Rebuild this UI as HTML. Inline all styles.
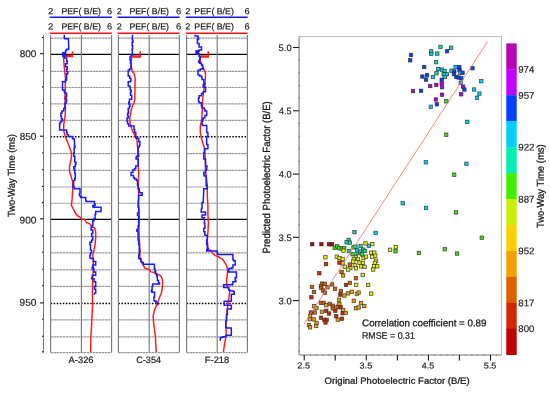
<!DOCTYPE html>
<html><head><meta charset="utf-8"><style>html,body{margin:0;padding:0;background:#fff;overflow:hidden}svg{display:block}</style></head>
<body><svg width="550" height="393" viewBox="0 0 550 393">
<rect width="550" height="393" fill="#fff"/>
<line x1="43.5" y1="35" x2="43.5" y2="352.5" stroke="#7a7a7a" stroke-width="1"/>
<line x1="42" y1="37.5" x2="43.5" y2="37.5" stroke="#1a1a1a" stroke-width="1.1"/>
<line x1="40" y1="53.7" x2="43.5" y2="53.7" stroke="#1a1a1a" stroke-width="1.1"/>
<line x1="42" y1="70.8" x2="43.5" y2="70.8" stroke="#1a1a1a" stroke-width="1.1"/>
<line x1="42" y1="86.9" x2="43.5" y2="86.9" stroke="#1a1a1a" stroke-width="1.1"/>
<line x1="42" y1="103.2" x2="43.5" y2="103.2" stroke="#1a1a1a" stroke-width="1.1"/>
<line x1="42" y1="119.7" x2="43.5" y2="119.7" stroke="#1a1a1a" stroke-width="1.1"/>
<line x1="40" y1="136.2" x2="43.5" y2="136.2" stroke="#1a1a1a" stroke-width="1.1"/>
<line x1="42" y1="153.0" x2="43.5" y2="153.0" stroke="#1a1a1a" stroke-width="1.1"/>
<line x1="42" y1="169.7" x2="43.5" y2="169.7" stroke="#1a1a1a" stroke-width="1.1"/>
<line x1="42" y1="186.4" x2="43.5" y2="186.4" stroke="#1a1a1a" stroke-width="1.1"/>
<line x1="42" y1="202.6" x2="43.5" y2="202.6" stroke="#1a1a1a" stroke-width="1.1"/>
<line x1="40" y1="218.8" x2="43.5" y2="218.8" stroke="#1a1a1a" stroke-width="1.1"/>
<line x1="42" y1="236.0" x2="43.5" y2="236.0" stroke="#1a1a1a" stroke-width="1.1"/>
<line x1="42" y1="252.2" x2="43.5" y2="252.2" stroke="#1a1a1a" stroke-width="1.1"/>
<line x1="42" y1="269.2" x2="43.5" y2="269.2" stroke="#1a1a1a" stroke-width="1.1"/>
<line x1="42" y1="285.8" x2="43.5" y2="285.8" stroke="#1a1a1a" stroke-width="1.1"/>
<line x1="40" y1="302.9" x2="43.5" y2="302.9" stroke="#1a1a1a" stroke-width="1.1"/>
<line x1="42" y1="319.2" x2="43.5" y2="319.2" stroke="#1a1a1a" stroke-width="1.1"/>
<line x1="42" y1="336.3" x2="43.5" y2="336.3" stroke="#1a1a1a" stroke-width="1.1"/>
<line x1="42" y1="351.9" x2="43.5" y2="351.9" stroke="#1a1a1a" stroke-width="1.1"/>
<text transform="matrix(1.0000,0.0005,0,0.9784,19.70,56.90)" font-family="Liberation Sans, Arial, sans-serif" text-rendering="geometricPrecision" font-size="10" fill="#1a1a1a" stroke="#1a1a1a" stroke-width="0.16">800</text>
<text transform="matrix(1.0000,0.0005,0,0.9784,19.70,139.80)" font-family="Liberation Sans, Arial, sans-serif" text-rendering="geometricPrecision" font-size="10" fill="#1a1a1a" stroke="#1a1a1a" stroke-width="0.16">850</text>
<text transform="matrix(1.0063,0.0005,0,0.9784,19.60,223.60)" font-family="Liberation Sans, Arial, sans-serif" text-rendering="geometricPrecision" font-size="10" fill="#1a1a1a" stroke="#1a1a1a" stroke-width="0.16">900</text>
<text transform="matrix(1.0063,0.0005,0,0.9784,19.60,305.80)" font-family="Liberation Sans, Arial, sans-serif" text-rendering="geometricPrecision" font-size="10" fill="#1a1a1a" stroke="#1a1a1a" stroke-width="0.16">950</text>
<text transform="matrix(0.0005,-0.9373,0.9928,0,14.80,216.99)" font-family="Liberation Sans, Arial, sans-serif" text-rendering="geometricPrecision" font-size="10" fill="#1a1a1a" stroke="#1a1a1a" stroke-width="0.3">Two-Way Time (ms)</text>
<line x1="50.6" y1="38.1" x2="111.6" y2="38.1" stroke="#999" stroke-width="1.15" stroke-dasharray="2.5 0.5"/>
<line x1="50.6" y1="54.3" x2="111.6" y2="54.3" stroke="#000" stroke-width="1.3"/>
<line x1="50.6" y1="71.4" x2="111.6" y2="71.4" stroke="#999" stroke-width="1.15" stroke-dasharray="2.5 0.5"/>
<line x1="50.6" y1="87.5" x2="111.6" y2="87.5" stroke="#999" stroke-width="1.15" stroke-dasharray="2.5 0.5"/>
<line x1="50.6" y1="103.8" x2="111.6" y2="103.8" stroke="#999" stroke-width="1.15" stroke-dasharray="2.5 0.5"/>
<line x1="50.6" y1="120.3" x2="111.6" y2="120.3" stroke="#999" stroke-width="1.15" stroke-dasharray="2.5 0.5"/>
<line x1="50.6" y1="136.8" x2="111.6" y2="136.8" stroke="#000" stroke-width="1.4" stroke-dasharray="1.5 1.55"/>
<line x1="50.6" y1="153.6" x2="111.6" y2="153.6" stroke="#999" stroke-width="1.15" stroke-dasharray="2.5 0.5"/>
<line x1="50.6" y1="170.3" x2="111.6" y2="170.3" stroke="#999" stroke-width="1.15" stroke-dasharray="2.5 0.5"/>
<line x1="50.6" y1="187.0" x2="111.6" y2="187.0" stroke="#999" stroke-width="1.15" stroke-dasharray="2.5 0.5"/>
<line x1="50.6" y1="203.2" x2="111.6" y2="203.2" stroke="#999" stroke-width="1.15" stroke-dasharray="2.5 0.5"/>
<line x1="50.6" y1="219.4" x2="111.6" y2="219.4" stroke="#000" stroke-width="1.3"/>
<line x1="50.6" y1="236.6" x2="111.6" y2="236.6" stroke="#999" stroke-width="1.15" stroke-dasharray="2.5 0.5"/>
<line x1="50.6" y1="252.8" x2="111.6" y2="252.8" stroke="#999" stroke-width="1.15" stroke-dasharray="2.5 0.5"/>
<line x1="50.6" y1="269.8" x2="111.6" y2="269.8" stroke="#999" stroke-width="1.15" stroke-dasharray="2.5 0.5"/>
<line x1="50.6" y1="286.4" x2="111.6" y2="286.4" stroke="#999" stroke-width="1.15" stroke-dasharray="2.5 0.5"/>
<line x1="50.6" y1="303.5" x2="111.6" y2="303.5" stroke="#000" stroke-width="1.4" stroke-dasharray="1.5 1.55"/>
<line x1="50.6" y1="319.8" x2="111.6" y2="319.8" stroke="#999" stroke-width="1.15" stroke-dasharray="2.5 0.5"/>
<line x1="50.6" y1="336.9" x2="111.6" y2="336.9" stroke="#999" stroke-width="1.15" stroke-dasharray="2.5 0.5"/>
<line x1="50.6" y1="352.6" x2="111.6" y2="352.6" stroke="#999" stroke-width="1.15" stroke-dasharray="2.5 0.5"/>
<line x1="50.6" y1="35" x2="50.6" y2="352.5" stroke="#7a7a7a" stroke-width="1.15"/>
<line x1="81.4" y1="35" x2="81.4" y2="352.5" stroke="#7a7a7a" stroke-width="1.15"/>
<line x1="111.6" y1="35" x2="111.6" y2="352.5" stroke="#7a7a7a" stroke-width="1.15"/>
<line x1="118.4" y1="38.1" x2="179.4" y2="38.1" stroke="#999" stroke-width="1.15" stroke-dasharray="2.5 0.5"/>
<line x1="118.4" y1="54.3" x2="179.4" y2="54.3" stroke="#000" stroke-width="1.3"/>
<line x1="118.4" y1="71.4" x2="179.4" y2="71.4" stroke="#999" stroke-width="1.15" stroke-dasharray="2.5 0.5"/>
<line x1="118.4" y1="87.5" x2="179.4" y2="87.5" stroke="#999" stroke-width="1.15" stroke-dasharray="2.5 0.5"/>
<line x1="118.4" y1="103.8" x2="179.4" y2="103.8" stroke="#999" stroke-width="1.15" stroke-dasharray="2.5 0.5"/>
<line x1="118.4" y1="120.3" x2="179.4" y2="120.3" stroke="#999" stroke-width="1.15" stroke-dasharray="2.5 0.5"/>
<line x1="118.4" y1="136.8" x2="179.4" y2="136.8" stroke="#000" stroke-width="1.4" stroke-dasharray="1.5 1.55"/>
<line x1="118.4" y1="153.6" x2="179.4" y2="153.6" stroke="#999" stroke-width="1.15" stroke-dasharray="2.5 0.5"/>
<line x1="118.4" y1="170.3" x2="179.4" y2="170.3" stroke="#999" stroke-width="1.15" stroke-dasharray="2.5 0.5"/>
<line x1="118.4" y1="187.0" x2="179.4" y2="187.0" stroke="#999" stroke-width="1.15" stroke-dasharray="2.5 0.5"/>
<line x1="118.4" y1="203.2" x2="179.4" y2="203.2" stroke="#999" stroke-width="1.15" stroke-dasharray="2.5 0.5"/>
<line x1="118.4" y1="219.4" x2="179.4" y2="219.4" stroke="#000" stroke-width="1.3"/>
<line x1="118.4" y1="236.6" x2="179.4" y2="236.6" stroke="#999" stroke-width="1.15" stroke-dasharray="2.5 0.5"/>
<line x1="118.4" y1="252.8" x2="179.4" y2="252.8" stroke="#999" stroke-width="1.15" stroke-dasharray="2.5 0.5"/>
<line x1="118.4" y1="269.8" x2="179.4" y2="269.8" stroke="#999" stroke-width="1.15" stroke-dasharray="2.5 0.5"/>
<line x1="118.4" y1="286.4" x2="179.4" y2="286.4" stroke="#999" stroke-width="1.15" stroke-dasharray="2.5 0.5"/>
<line x1="118.4" y1="303.5" x2="179.4" y2="303.5" stroke="#000" stroke-width="1.4" stroke-dasharray="1.5 1.55"/>
<line x1="118.4" y1="319.8" x2="179.4" y2="319.8" stroke="#999" stroke-width="1.15" stroke-dasharray="2.5 0.5"/>
<line x1="118.4" y1="336.9" x2="179.4" y2="336.9" stroke="#999" stroke-width="1.15" stroke-dasharray="2.5 0.5"/>
<line x1="118.4" y1="352.6" x2="179.4" y2="352.6" stroke="#999" stroke-width="1.15" stroke-dasharray="2.5 0.5"/>
<line x1="118.4" y1="35" x2="118.4" y2="352.5" stroke="#7a7a7a" stroke-width="1.15"/>
<line x1="149.2" y1="35" x2="149.2" y2="352.5" stroke="#7a7a7a" stroke-width="1.15"/>
<line x1="179.4" y1="35" x2="179.4" y2="352.5" stroke="#7a7a7a" stroke-width="1.15"/>
<line x1="186.6" y1="38.1" x2="247.4" y2="38.1" stroke="#999" stroke-width="1.15" stroke-dasharray="2.5 0.5"/>
<line x1="186.6" y1="54.3" x2="247.4" y2="54.3" stroke="#000" stroke-width="1.3"/>
<line x1="186.6" y1="71.4" x2="247.4" y2="71.4" stroke="#999" stroke-width="1.15" stroke-dasharray="2.5 0.5"/>
<line x1="186.6" y1="87.5" x2="247.4" y2="87.5" stroke="#999" stroke-width="1.15" stroke-dasharray="2.5 0.5"/>
<line x1="186.6" y1="103.8" x2="247.4" y2="103.8" stroke="#999" stroke-width="1.15" stroke-dasharray="2.5 0.5"/>
<line x1="186.6" y1="120.3" x2="247.4" y2="120.3" stroke="#999" stroke-width="1.15" stroke-dasharray="2.5 0.5"/>
<line x1="186.6" y1="136.8" x2="247.4" y2="136.8" stroke="#000" stroke-width="1.4" stroke-dasharray="1.5 1.55"/>
<line x1="186.6" y1="153.6" x2="247.4" y2="153.6" stroke="#999" stroke-width="1.15" stroke-dasharray="2.5 0.5"/>
<line x1="186.6" y1="170.3" x2="247.4" y2="170.3" stroke="#999" stroke-width="1.15" stroke-dasharray="2.5 0.5"/>
<line x1="186.6" y1="187.0" x2="247.4" y2="187.0" stroke="#999" stroke-width="1.15" stroke-dasharray="2.5 0.5"/>
<line x1="186.6" y1="203.2" x2="247.4" y2="203.2" stroke="#999" stroke-width="1.15" stroke-dasharray="2.5 0.5"/>
<line x1="186.6" y1="219.4" x2="247.4" y2="219.4" stroke="#000" stroke-width="1.3"/>
<line x1="186.6" y1="236.6" x2="247.4" y2="236.6" stroke="#999" stroke-width="1.15" stroke-dasharray="2.5 0.5"/>
<line x1="186.6" y1="252.8" x2="247.4" y2="252.8" stroke="#999" stroke-width="1.15" stroke-dasharray="2.5 0.5"/>
<line x1="186.6" y1="269.8" x2="247.4" y2="269.8" stroke="#999" stroke-width="1.15" stroke-dasharray="2.5 0.5"/>
<line x1="186.6" y1="286.4" x2="247.4" y2="286.4" stroke="#999" stroke-width="1.15" stroke-dasharray="2.5 0.5"/>
<line x1="186.6" y1="303.5" x2="247.4" y2="303.5" stroke="#000" stroke-width="1.4" stroke-dasharray="1.5 1.55"/>
<line x1="186.6" y1="319.8" x2="247.4" y2="319.8" stroke="#999" stroke-width="1.15" stroke-dasharray="2.5 0.5"/>
<line x1="186.6" y1="336.9" x2="247.4" y2="336.9" stroke="#999" stroke-width="1.15" stroke-dasharray="2.5 0.5"/>
<line x1="186.6" y1="352.6" x2="247.4" y2="352.6" stroke="#999" stroke-width="1.15" stroke-dasharray="2.5 0.5"/>
<line x1="186.6" y1="35" x2="186.6" y2="352.5" stroke="#7a7a7a" stroke-width="1.15"/>
<line x1="217.2" y1="35" x2="217.2" y2="352.5" stroke="#7a7a7a" stroke-width="1.15"/>
<line x1="247.4" y1="35" x2="247.4" y2="352.5" stroke="#7a7a7a" stroke-width="1.15"/>
<line x1="49.800000000000004" y1="17.3" x2="111.89999999999999" y2="17.3" stroke="#1414f0" stroke-width="1.5"/>
<line x1="49.800000000000004" y1="33.3" x2="111.89999999999999" y2="33.3" stroke="#f01414" stroke-width="1.5"/>
<text transform="matrix(0.9565,0.0005,0,0.8849,48.02,14.25)" font-family="Liberation Sans, Arial, sans-serif" text-rendering="geometricPrecision" font-size="10" fill="#1a1a1a" stroke="#1a1a1a" stroke-width="0.16">2</text>
<text transform="matrix(0.8784,0.0005,0,0.8849,61.40,14.25)" font-family="Liberation Sans, Arial, sans-serif" text-rendering="geometricPrecision" font-size="10" fill="#1a1a1a" stroke="#1a1a1a" stroke-width="0.22">PEF( B/E)</text>
<text transform="matrix(0.9130,0.0005,0,0.8849,107.04,14.25)" font-family="Liberation Sans, Arial, sans-serif" text-rendering="geometricPrecision" font-size="10" fill="#1a1a1a" stroke="#1a1a1a" stroke-width="0.16">6</text>
<text transform="matrix(0.9565,0.0005,0,0.8849,48.02,29.55)" font-family="Liberation Sans, Arial, sans-serif" text-rendering="geometricPrecision" font-size="10" fill="#1a1a1a" stroke="#1a1a1a" stroke-width="0.16">2</text>
<text transform="matrix(0.8784,0.0005,0,0.8849,61.40,29.55)" font-family="Liberation Sans, Arial, sans-serif" text-rendering="geometricPrecision" font-size="10" fill="#1a1a1a" stroke="#1a1a1a" stroke-width="0.22">PEF( B/E)</text>
<text transform="matrix(0.9130,0.0005,0,0.8849,107.04,29.55)" font-family="Liberation Sans, Arial, sans-serif" text-rendering="geometricPrecision" font-size="10" fill="#1a1a1a" stroke="#1a1a1a" stroke-width="0.16">6</text>
<line x1="117.60000000000001" y1="17.3" x2="179.70000000000002" y2="17.3" stroke="#1414f0" stroke-width="1.5"/>
<line x1="117.60000000000001" y1="33.3" x2="179.70000000000002" y2="33.3" stroke="#f01414" stroke-width="1.5"/>
<text transform="matrix(0.9130,0.0005,0,0.8849,116.64,14.25)" font-family="Liberation Sans, Arial, sans-serif" text-rendering="geometricPrecision" font-size="10" fill="#1a1a1a" stroke="#1a1a1a" stroke-width="0.16">2</text>
<text transform="matrix(0.8784,0.0005,0,0.8849,129.40,14.25)" font-family="Liberation Sans, Arial, sans-serif" text-rendering="geometricPrecision" font-size="10" fill="#1a1a1a" stroke="#1a1a1a" stroke-width="0.22">PEF( B/E)</text>
<text transform="matrix(0.9348,0.0005,0,0.8849,175.93,14.25)" font-family="Liberation Sans, Arial, sans-serif" text-rendering="geometricPrecision" font-size="10" fill="#1a1a1a" stroke="#1a1a1a" stroke-width="0.16">6</text>
<text transform="matrix(0.9130,0.0005,0,0.8849,116.64,29.55)" font-family="Liberation Sans, Arial, sans-serif" text-rendering="geometricPrecision" font-size="10" fill="#1a1a1a" stroke="#1a1a1a" stroke-width="0.16">2</text>
<text transform="matrix(0.8784,0.0005,0,0.8849,129.40,29.55)" font-family="Liberation Sans, Arial, sans-serif" text-rendering="geometricPrecision" font-size="10" fill="#1a1a1a" stroke="#1a1a1a" stroke-width="0.22">PEF( B/E)</text>
<text transform="matrix(0.9348,0.0005,0,0.8849,175.93,29.55)" font-family="Liberation Sans, Arial, sans-serif" text-rendering="geometricPrecision" font-size="10" fill="#1a1a1a" stroke="#1a1a1a" stroke-width="0.16">6</text>
<line x1="185.79999999999998" y1="17.3" x2="247.70000000000002" y2="17.3" stroke="#1414f0" stroke-width="1.5"/>
<line x1="185.79999999999998" y1="33.3" x2="247.70000000000002" y2="33.3" stroke="#f01414" stroke-width="1.5"/>
<text transform="matrix(0.9130,0.0005,0,0.8849,185.34,14.25)" font-family="Liberation Sans, Arial, sans-serif" text-rendering="geometricPrecision" font-size="10" fill="#1a1a1a" stroke="#1a1a1a" stroke-width="0.16">2</text>
<text transform="matrix(0.8784,0.0005,0,0.8849,194.30,14.25)" font-family="Liberation Sans, Arial, sans-serif" text-rendering="geometricPrecision" font-size="10" fill="#1a1a1a" stroke="#1a1a1a" stroke-width="0.22">PEF( B/E)</text>
<text transform="matrix(0.9348,0.0005,0,0.8849,244.43,14.25)" font-family="Liberation Sans, Arial, sans-serif" text-rendering="geometricPrecision" font-size="10" fill="#1a1a1a" stroke="#1a1a1a" stroke-width="0.16">6</text>
<text transform="matrix(0.9130,0.0005,0,0.8849,185.34,29.55)" font-family="Liberation Sans, Arial, sans-serif" text-rendering="geometricPrecision" font-size="10" fill="#1a1a1a" stroke="#1a1a1a" stroke-width="0.16">2</text>
<text transform="matrix(0.8784,0.0005,0,0.8849,194.30,29.55)" font-family="Liberation Sans, Arial, sans-serif" text-rendering="geometricPrecision" font-size="10" fill="#1a1a1a" stroke="#1a1a1a" stroke-width="0.22">PEF( B/E)</text>
<text transform="matrix(0.9348,0.0005,0,0.8849,244.43,29.55)" font-family="Liberation Sans, Arial, sans-serif" text-rendering="geometricPrecision" font-size="10" fill="#1a1a1a" stroke="#1a1a1a" stroke-width="0.16">6</text>
<text transform="matrix(0.9351,0.0005,0,0.9209,68.60,362.90)" font-family="Liberation Sans, Arial, sans-serif" text-rendering="geometricPrecision" font-size="10" fill="#1a1a1a" stroke="#1a1a1a" stroke-width="0.22">A-326</text>
<text transform="matrix(0.9167,0.0005,0,0.9209,136.14,362.90)" font-family="Liberation Sans, Arial, sans-serif" text-rendering="geometricPrecision" font-size="10" fill="#1a1a1a" stroke="#1a1a1a" stroke-width="0.22">C-354</text>
<text transform="matrix(0.9317,0.0005,0,0.9209,204.85,362.90)" font-family="Liberation Sans, Arial, sans-serif" text-rendering="geometricPrecision" font-size="10" fill="#1a1a1a" stroke="#1a1a1a" stroke-width="0.22">F-218</text>
<polyline points="63.5,56.3 64.3,67.9 65.5,77.8 65.2,87.6 64.9,99.3 65.5,108.6 65.2,115.6 64.3,120.8 63.7,124.8 63.7,130.6 64.9,135.3 66.6,139.9 68.4,144.0 69.5,146.9 70.7,150.4 71.6,153.9 71.3,158.6 70.1,164.0 69.5,166.7 69.5,171.3 71.3,177.1 72.7,181.8 72.8,187.6 72.4,194.6 71.9,201.6 71.3,205.0 73.0,208.5 74.8,212.0 77.1,215.5 80.0,217.2 81.7,219.0 84.7,219.5 86.4,222.5 89.3,223.6 91.6,225.9 92.8,227.1 94.5,227.7 95.7,231.8 95.7,237.6 95.1,244.6 94.0,250.0 92.8,255.0 93.4,265.5 92.8,277.1 92.6,286.4 92.4,293.0 92.6,303.6 91.9,319.4 90.9,336.7 90.6,352.0" fill="none" stroke="#ff1a1a" stroke-width="1.45" stroke-linejoin="round"/>
<path d="M71.7,51.3 H73.2 V57.3 H63.1 V54.8 H71.7 Z" fill="#ff1a1a"/>
<polyline points="63.1,56.1 63.5,56.3" fill="none" stroke="#ff1a1a" stroke-width="1.45"/>
<polyline points="131.7,57.4 131.1,62.1 131.5,67.9 132.3,71.4 134.0,73.1 135.2,78.3 135.0,87.6 134.9,99.3 134.0,102.8 132.3,106.3 131.4,109.7 130.5,114.4 129.7,119.0 130.2,123.7 132.3,130.6 134.6,135.3 136.9,139.9 137.5,146.9 138.1,153.9 138.3,164.0 138.7,173.6 138.3,185.3 138.7,196.9 138.7,205.0 139.3,216.6 139.0,228.3 139.3,239.9 139.9,250.0 139.9,257.3 141.6,262.0 143.3,265.5 145.1,268.4 149.2,269.5 150.9,271.9 153.8,272.4 156.1,274.2 159.1,274.8 160.8,275.9 162.0,278.3 162.5,281.7 162.5,286.4 162.0,289.9 161.4,293.0 160.2,295.7 157.3,303.6 154.6,309.9 153.1,316.2 153.9,325.7 155.4,336.7 156.2,352.0" fill="none" stroke="#ff1a1a" stroke-width="1.45" stroke-linejoin="round"/>
<path d="M139.5,51.3 H141.0 V57.8 H132.3 V55.3 H139.5 Z" fill="#ff1a1a"/>
<polyline points="132.3,56.6 131.7,57.4" fill="none" stroke="#ff1a1a" stroke-width="1.45"/>
<polyline points="200.3,56.9 200.3,60.9 201.5,64.4 203.2,67.9 204.9,71.4 205.5,74.9 205.5,78.0 204.9,83.0 203.8,90.0 202.6,99.3 202.4,108.6 202.0,114.4 201.5,121.0 200.3,126.0 200.3,131.8 201.5,138.8 203.2,144.6 204.9,149.3 204.9,153.9 205.3,158.6 205.5,164.0 205.5,171.3 206.7,179.5 207.3,185.3 207.3,196.9 207.9,205.0 207.9,214.3 208.4,222.5 207.9,232.9 207.3,239.9 207.9,246.9 209.0,250.0 210.8,250.3 213.1,253.8 215.4,255.6 218.3,256.7 220.1,257.9 222.4,259.1 224.1,261.4 225.9,264.3 227.1,267.2 227.6,271.3 227.1,275.9 226.5,280.6 227.1,285.2 228.2,288.7 229.7,291.0 229.0,297.3 227.9,305.2 226.6,314.7 225.8,325.7 226.3,335.2 224.7,343.1 223.4,352.0" fill="none" stroke="#ff1a1a" stroke-width="1.45" stroke-linejoin="round"/>
<path d="M207.5,51.3 H209.0 V57.8 H200.9 V55.3 H207.5 Z" fill="#ff1a1a"/>
<polyline points="200.9,56.6 200.3,56.9" fill="none" stroke="#ff1a1a" stroke-width="1.45"/>
<polyline points="64.3,34.7 64.3,38.2 64.9,38.2 64.9,38.8 68.4,38.8 68.7,47.0 68.7,49.3 66.6,49.3 66.6,50.5 65.5,50.5 65.5,52.8 63.1,52.8 63.1,54.5 63.1,56.3 64.3,56.3 64.3,58.0 66.6,58.0 66.6,61.0 67.2,61.0 67.2,63.8 65.5,63.8 65.5,66.7 67.2,66.7 67.2,69.0 66.6,69.0 66.6,71.4 67.8,71.4 67.8,73.7 66.6,73.7 66.6,77.8 66.0,77.8 66.0,78.9 66.6,78.9 66.6,80.1 65.5,80.1 65.5,81.8 62.5,81.8 62.5,88.8 62.5,90.0 64.3,90.0 64.3,92.3 65.5,92.3 65.5,93.5 66.6,93.5 66.6,96.4 66.0,96.4 66.0,97.5 65.5,97.5 65.5,99.3 66.6,99.3 66.6,101.6 66.0,101.6 66.0,103.3 64.9,103.3 64.9,105.1 64.9,108.6 63.7,108.6 63.7,110.9 62.0,110.9 62.0,113.2 60.8,113.2 60.8,116.1 61.4,116.1 61.4,119.1 62.5,119.1 62.5,120.7 61.4,120.7 61.4,121.9 60.2,121.9 60.2,123.7 59.6,123.7 59.6,129.5 59.6,130.1 60.8,130.1 66.6,130.1 66.6,132.4 67.2,132.4 67.2,134.7 68.4,134.7 68.4,136.5 72.4,136.5 72.4,138.2 73.0,138.2 73.0,138.8 74.2,138.8 74.5,142.3 74.5,145.8 75.0,145.8 75.0,147.5 74.2,147.5 74.2,149.3 74.2,152.7 73.8,152.7 73.8,156.2 74.8,156.2 74.8,162.0 75.9,162.0 75.9,164.3 75.3,164.3 75.3,166.7 73.8,166.7 73.8,169.0 74.8,169.0 74.8,173.6 75.3,173.6 75.3,178.3 74.8,178.3 74.8,180.6 73.6,180.6 73.6,185.3 73.0,185.3 73.0,187.0 74.2,187.0 74.2,188.8 75.3,188.8 80.0,188.8 80.0,192.3 80.0,193.4 79.4,193.4 79.4,195.7 80.6,195.7 80.6,197.5 81.2,197.5 85.8,197.5 85.8,201.0 86.4,201.0 86.4,201.6 94.5,201.6 94.5,203.9 95.1,203.9 95.1,205.6 92.8,205.6 92.8,206.7 93.4,206.7 93.4,207.3 101.0,207.3 101.0,211.4 95.7,211.4 95.7,214.3 95.1,214.3 95.1,218.4 94.0,218.4 94.0,220.7 92.8,220.7 92.8,225.4 92.2,225.4 92.2,227.1 91.1,227.1 91.1,229.4 91.1,230.0 92.8,230.0 92.8,232.9 92.8,233.5 91.6,233.5 91.6,235.8 91.6,236.4 92.8,236.4 92.8,238.7 92.8,239.9 91.6,239.9 91.6,242.2 89.9,242.2 89.9,244.6 90.5,244.6 90.5,250.0 91.1,250.0 91.6,250.3 91.6,252.7 90.5,252.7 90.5,255.0 89.9,255.0 89.9,257.9 91.1,257.9 91.1,258.5 93.4,258.5 93.4,260.8 93.4,261.4 95.7,261.4 95.7,264.3 95.7,264.9 92.8,264.9 92.8,267.2 92.2,267.2 92.2,268.9 94.0,268.9 94.0,271.3 94.0,271.9 95.7,271.9 95.7,274.8 95.7,275.3 92.2,275.3 92.2,278.3 91.6,278.3 91.6,278.8 94.0,278.8 94.0,281.7 95.7,281.7 95.7,286.4 94.5,286.4 94.5,289.3 95.7,289.3 95.7,293.0 95.1,293.0 94.5,293.4 94.2,294.9" fill="none" stroke="#1a1aff" stroke-width="1.5" stroke-linejoin="miter" stroke-miterlimit="2"/>
<polyline points="132.6,34.7 132.3,37.7 132.3,40.0 132.9,40.0 132.9,42.3 132.1,42.3 132.1,45.8 132.6,45.8 132.6,49.3 132.1,49.3 132.3,52.8 132.3,55.1 131.1,55.1 131.1,56.9 130.0,56.9 130.0,59.8 130.5,59.8 130.5,63.3 130.9,63.3 131.1,67.9 131.1,69.1 129.4,69.1 129.4,70.2 128.2,70.2 128.2,74.3 128.2,76.1 129.7,76.1 129.7,78.3 130.9,78.3 130.9,80.7 130.5,80.7 130.5,81.8 128.2,81.8 128.2,84.7 128.2,85.9 130.0,85.9 130.2,88.8 130.2,90.0 131.1,90.0 131.1,92.3 130.5,92.3 130.5,95.2 131.7,95.2 131.7,97.5 131.7,99.3 129.4,99.3 129.4,102.2 128.8,102.2 128.8,103.9 130.0,103.9 130.0,106.3 129.4,106.3 129.4,108.6 128.2,108.6 128.2,110.9 128.6,110.9 128.6,113.2 127.6,113.2 127.6,115.6 128.2,115.6 128.2,117.9 127.1,117.9 127.1,119.0 127.1,121.3 127.6,121.3 127.6,123.7 128.8,123.7 128.8,126.0 129.4,126.0 134.0,126.0 134.0,129.5 134.6,129.5 134.6,132.4 135.8,132.4 135.8,135.3 135.8,137.6 136.7,137.6 136.7,138.2 138.7,138.2 138.7,141.7 139.9,141.7 139.9,145.2 139.3,145.2 139.3,146.9 138.1,146.9 138.1,152.7 138.1,155.1 138.7,155.1 138.7,156.2 136.4,156.2 136.4,158.0 136.0,158.0 136.0,159.1 138.1,159.1 138.3,164.0 138.1,165.5 138.1,166.1 135.8,166.1 135.8,168.4 134.6,168.4 134.6,170.1 132.9,170.1 132.9,172.5 131.1,172.5 131.1,174.8 131.1,175.4 133.5,175.4 133.5,177.7 134.6,177.7 134.6,178.9 136.4,178.9 136.4,180.6 137.5,180.6 137.5,185.3 138.1,185.3 138.1,188.8 139.3,188.8 139.3,192.3 139.9,192.3 139.9,192.8 142.2,192.8 142.2,195.2 138.7,195.2 138.3,200.4 138.1,203.9 138.1,207.0 138.7,207.0 138.7,210.8 138.7,213.1 137.5,213.1 137.5,215.5 138.7,215.5 138.7,221.3 138.7,225.9 138.1,225.9 138.1,229.4 136.9,229.4 136.9,231.2 137.9,231.2 138.1,235.3 138.1,239.9 138.7,239.9 138.7,244.6 139.3,244.6 139.3,250.0 139.9,250.0 139.9,251.5 139.3,251.5 139.3,255.0 138.7,255.0 138.7,257.9 139.3,257.9 139.3,259.1 141.0,259.1 141.0,261.4 141.6,261.4 141.6,262.5 143.3,262.5 143.3,264.3 143.9,264.3 154.4,264.3 154.4,268.9 155.0,268.9 155.0,271.3 155.6,271.3 155.6,273.6 156.7,273.6 156.7,275.9 157.3,275.9 157.3,279.4 157.3,280.6 158.5,280.6 158.5,282.9 159.6,282.9 159.6,284.1 160.2,284.1 152.7,284.1 152.7,286.4 152.1,286.4 152.1,289.9 151.5,289.9 151.5,291.8 152.3,291.8 152.3,292.3 154.6,292.3 154.6,294.9 154.6,297.3 153.9,297.3 153.9,300.5 154.6,300.5 154.6,301.3 156.2,301.3 156.2,302.8 157.8,302.8 157.8,304.4 157.0,304.4" fill="none" stroke="#1a1aff" stroke-width="1.5" stroke-linejoin="miter" stroke-miterlimit="2"/>
<polyline points="195.1,34.7 195.1,35.9 198.0,35.9 198.0,38.2 198.5,38.2 198.5,39.4 197.4,39.4 197.4,41.7 197.4,43.5 199.1,43.5 199.1,45.8 199.1,47.0 201.5,47.0 201.5,49.3 201.5,49.9 199.1,49.9 199.1,51.0 196.2,51.0 196.2,52.8 196.2,53.9 199.1,53.9 199.1,56.3 200.3,56.3 200.3,58.6 199.7,58.6 199.7,60.9 198.5,60.9 198.5,62.1 199.7,62.1 199.7,63.3 201.5,63.3 201.5,65.0 202.6,65.0 202.6,67.9 203.2,67.9 203.2,69.1 200.3,69.1 200.3,70.2 198.0,70.2 198.0,72.6 198.0,74.9 199.7,74.9 199.7,76.1 201.5,76.1 201.5,77.2 202.0,77.2 202.0,79.5 203.8,79.5 203.8,81.8 203.8,83.6 204.9,83.6 204.9,84.7 203.2,84.7 203.2,87.1 205.5,87.1 205.5,89.4 205.5,91.7 203.2,91.7 203.2,93.5 201.5,93.5 201.5,95.8 199.1,95.8 199.1,98.1 198.5,98.1 198.5,101.6 199.1,101.6 199.1,102.8 201.5,102.8 201.5,106.3 202.0,106.3 202.0,108.0 204.4,108.0 204.4,109.7 204.9,109.7 204.9,110.9 206.7,110.9 206.7,113.2 206.7,115.6 204.9,115.6 204.9,117.9 203.2,117.9 203.2,119.0 202.6,119.0 202.6,121.3 202.0,121.3 202.0,124.2 202.4,124.2 202.4,125.4 203.2,125.4 206.7,125.4 206.7,130.6 206.7,132.4 207.9,132.4 207.9,134.7 207.9,136.5 206.7,136.5 206.7,143.4 206.7,144.6 207.9,144.6 207.9,148.1 207.9,148.7 204.4,148.7 204.4,152.7 203.8,152.7 203.8,158.6 203.8,159.1 205.5,159.1 205.5,164.9 205.5,166.1 207.0,166.1 206.7,168.4 206.7,170.1 205.5,170.1 205.5,172.5 203.8,172.5 203.8,174.8 204.4,174.8 204.4,176.0 206.1,176.0 206.1,180.6 206.1,185.3 207.0,185.3 207.3,188.2 207.3,188.8 203.8,188.8 203.5,196.9 203.2,201.0 203.2,202.7 202.0,202.7 202.0,205.0 202.0,208.5 201.5,208.5 201.2,210.8 201.2,212.0 205.5,212.0 205.5,214.3 205.5,214.9 202.0,214.9 202.0,217.2 202.0,217.8 204.4,217.8 204.4,220.1 204.4,223.6 204.9,223.6 204.9,228.3 203.8,228.3 203.8,231.8 204.9,231.8 204.9,235.3 207.3,235.3 207.3,239.9 206.7,239.9 206.7,244.6 207.3,244.6 207.3,248.6 207.9,248.6 207.9,249.7 206.7,249.7 206.7,250.9 217.2,250.9 217.2,253.8 217.7,253.8 217.7,254.4 232.9,254.4 232.9,259.6 233.5,259.6 233.5,260.8 235.2,260.8 235.2,264.3 235.2,264.9 232.9,264.9 232.9,267.8 231.7,267.8 231.7,268.4 228.8,268.4 228.8,271.3 228.2,271.3 228.2,271.9 236.4,271.9 236.4,275.9 236.4,277.7 235.2,277.7 235.2,280.6 235.8,280.6 235.8,281.7 232.9,281.7 232.9,284.1 232.3,284.1 232.3,284.7 223.6,284.7 223.6,287.0 223.6,287.6 228.8,287.6 228.8,289.9 230.0,289.9 230.0,291.1 233.5,291.1 233.5,291.8 234.2,291.8 234.2,294.2 231.3,294.2 231.3,300.5 231.3,301.3 224.2,301.3 224.2,304.4 224.2,305.2 231.3,305.2 231.3,308.4 231.3,309.1 227.4,309.1 227.4,314.7 226.6,314.7 226.6,321.0 225.8,321.0 225.8,327.3 226.6,327.3 226.6,328.1 231.3,328.1 231.3,334.4 231.3,335.2 225.8,335.2 225.8,336.7 222.6,336.7 222.6,337.5 220.3,337.5 220.3,340.7" fill="none" stroke="#1a1aff" stroke-width="1.5" stroke-linejoin="miter" stroke-miterlimit="2"/>
<rect x="62.2" y="52" width="4" height="5" rx="1.2" fill="#1a1aff"/>
<rect x="195.6" y="50.3" width="3.6" height="4.2" rx="1.2" fill="#1a1aff"/>
<line x1="299.1" y1="36.5" x2="501.5" y2="36.5" stroke="#bdbdbd" stroke-width="1"/>
<line x1="501.5" y1="36.5" x2="501.5" y2="355.0" stroke="#bdbdbd" stroke-width="1"/>
<line x1="299.1" y1="36.5" x2="299.1" y2="355.0" stroke="#a3a3a3" stroke-width="1.6"/>
<line x1="299.1" y1="355.0" x2="501.5" y2="355.0" stroke="#a3a3a3" stroke-width="1.3"/>
<line x1="298.5" y1="351.2" x2="300.0" y2="351.2" stroke="#707070" stroke-width="0.8"/>
<line x1="298.5" y1="338.6" x2="300.0" y2="338.6" stroke="#707070" stroke-width="0.8"/>
<line x1="298.5" y1="325.9" x2="300.0" y2="325.9" stroke="#707070" stroke-width="0.8"/>
<line x1="298.5" y1="313.3" x2="300.0" y2="313.3" stroke="#707070" stroke-width="0.8"/>
<line x1="298.5" y1="287.9" x2="300.0" y2="287.9" stroke="#707070" stroke-width="0.8"/>
<line x1="298.5" y1="275.3" x2="300.0" y2="275.3" stroke="#707070" stroke-width="0.8"/>
<line x1="298.5" y1="262.6" x2="300.0" y2="262.6" stroke="#707070" stroke-width="0.8"/>
<line x1="298.5" y1="250.0" x2="300.0" y2="250.0" stroke="#707070" stroke-width="0.8"/>
<line x1="298.5" y1="224.7" x2="300.0" y2="224.7" stroke="#707070" stroke-width="0.8"/>
<line x1="298.5" y1="212.0" x2="300.0" y2="212.0" stroke="#707070" stroke-width="0.8"/>
<line x1="298.5" y1="199.4" x2="300.0" y2="199.4" stroke="#707070" stroke-width="0.8"/>
<line x1="298.5" y1="186.7" x2="300.0" y2="186.7" stroke="#707070" stroke-width="0.8"/>
<line x1="298.5" y1="161.4" x2="300.0" y2="161.4" stroke="#707070" stroke-width="0.8"/>
<line x1="298.5" y1="148.7" x2="300.0" y2="148.7" stroke="#707070" stroke-width="0.8"/>
<line x1="298.5" y1="136.1" x2="300.0" y2="136.1" stroke="#707070" stroke-width="0.8"/>
<line x1="298.5" y1="123.4" x2="300.0" y2="123.4" stroke="#707070" stroke-width="0.8"/>
<line x1="298.5" y1="98.1" x2="300.0" y2="98.1" stroke="#707070" stroke-width="0.8"/>
<line x1="298.5" y1="85.5" x2="300.0" y2="85.5" stroke="#707070" stroke-width="0.8"/>
<line x1="298.5" y1="72.8" x2="300.0" y2="72.8" stroke="#707070" stroke-width="0.8"/>
<line x1="298.5" y1="60.2" x2="300.0" y2="60.2" stroke="#707070" stroke-width="0.8"/>
<line x1="310.4" y1="354.2" x2="310.4" y2="355.6" stroke="#707070" stroke-width="0.8"/>
<line x1="316.6" y1="354.2" x2="316.6" y2="355.6" stroke="#707070" stroke-width="0.8"/>
<line x1="322.8" y1="354.2" x2="322.8" y2="355.6" stroke="#707070" stroke-width="0.8"/>
<line x1="329.0" y1="354.2" x2="329.0" y2="355.6" stroke="#707070" stroke-width="0.8"/>
<line x1="341.5" y1="354.2" x2="341.5" y2="355.6" stroke="#707070" stroke-width="0.8"/>
<line x1="347.7" y1="354.2" x2="347.7" y2="355.6" stroke="#707070" stroke-width="0.8"/>
<line x1="353.9" y1="354.2" x2="353.9" y2="355.6" stroke="#707070" stroke-width="0.8"/>
<line x1="360.1" y1="354.2" x2="360.1" y2="355.6" stroke="#707070" stroke-width="0.8"/>
<line x1="372.5" y1="354.2" x2="372.5" y2="355.6" stroke="#707070" stroke-width="0.8"/>
<line x1="378.7" y1="354.2" x2="378.7" y2="355.6" stroke="#707070" stroke-width="0.8"/>
<line x1="384.9" y1="354.2" x2="384.9" y2="355.6" stroke="#707070" stroke-width="0.8"/>
<line x1="391.1" y1="354.2" x2="391.1" y2="355.6" stroke="#707070" stroke-width="0.8"/>
<line x1="403.6" y1="354.2" x2="403.6" y2="355.6" stroke="#707070" stroke-width="0.8"/>
<line x1="409.8" y1="354.2" x2="409.8" y2="355.6" stroke="#707070" stroke-width="0.8"/>
<line x1="416.0" y1="354.2" x2="416.0" y2="355.6" stroke="#707070" stroke-width="0.8"/>
<line x1="422.2" y1="354.2" x2="422.2" y2="355.6" stroke="#707070" stroke-width="0.8"/>
<line x1="434.6" y1="354.2" x2="434.6" y2="355.6" stroke="#707070" stroke-width="0.8"/>
<line x1="440.8" y1="354.2" x2="440.8" y2="355.6" stroke="#707070" stroke-width="0.8"/>
<line x1="447.0" y1="354.2" x2="447.0" y2="355.6" stroke="#707070" stroke-width="0.8"/>
<line x1="453.2" y1="354.2" x2="453.2" y2="355.6" stroke="#707070" stroke-width="0.8"/>
<line x1="465.7" y1="354.2" x2="465.7" y2="355.6" stroke="#707070" stroke-width="0.8"/>
<line x1="471.9" y1="354.2" x2="471.9" y2="355.6" stroke="#707070" stroke-width="0.8"/>
<line x1="478.1" y1="354.2" x2="478.1" y2="355.6" stroke="#707070" stroke-width="0.8"/>
<line x1="484.3" y1="354.2" x2="484.3" y2="355.6" stroke="#707070" stroke-width="0.8"/>
<line x1="496.7" y1="354.2" x2="496.7" y2="355.6" stroke="#707070" stroke-width="0.8"/>
<line x1="293" y1="300.6" x2="299.1" y2="300.6" stroke="#1a1a1a" stroke-width="1.1"/>
<text transform="matrix(0.9466,0.0005,0,0.9353,278.52,304.15)" font-family="Liberation Sans, Arial, sans-serif" text-rendering="geometricPrecision" font-size="10" fill="#1a1a1a" stroke="#1a1a1a" stroke-width="0.16">3.0</text>
<line x1="293" y1="237.3" x2="299.1" y2="237.3" stroke="#1a1a1a" stroke-width="1.1"/>
<text transform="matrix(0.9466,0.0005,0,0.9353,278.52,240.88)" font-family="Liberation Sans, Arial, sans-serif" text-rendering="geometricPrecision" font-size="10" fill="#1a1a1a" stroke="#1a1a1a" stroke-width="0.16">3.5</text>
<line x1="293" y1="174.1" x2="299.1" y2="174.1" stroke="#1a1a1a" stroke-width="1.1"/>
<text transform="matrix(0.9323,0.0005,0,0.9353,278.71,177.60)" font-family="Liberation Sans, Arial, sans-serif" text-rendering="geometricPrecision" font-size="10" fill="#1a1a1a" stroke="#1a1a1a" stroke-width="0.16">4.0</text>
<line x1="293" y1="110.8" x2="299.1" y2="110.8" stroke="#1a1a1a" stroke-width="1.1"/>
<text transform="matrix(0.9323,0.0005,0,0.9353,278.71,114.33)" font-family="Liberation Sans, Arial, sans-serif" text-rendering="geometricPrecision" font-size="10" fill="#1a1a1a" stroke="#1a1a1a" stroke-width="0.16">4.5</text>
<line x1="293" y1="47.5" x2="299.1" y2="47.5" stroke="#1a1a1a" stroke-width="1.1"/>
<text transform="matrix(0.9466,0.0005,0,0.9353,278.52,51.05)" font-family="Liberation Sans, Arial, sans-serif" text-rendering="geometricPrecision" font-size="10" fill="#1a1a1a" stroke="#1a1a1a" stroke-width="0.16">5.0</text>
<line x1="304.2" y1="355.0" x2="304.2" y2="360.6" stroke="#1a1a1a" stroke-width="1.1"/>
<text transform="matrix(0.9231,0.0005,0,0.8777,297.34,368.60)" font-family="Liberation Sans, Arial, sans-serif" text-rendering="geometricPrecision" font-size="10" fill="#1a1a1a" stroke="#1a1a1a" stroke-width="0.16">2.5</text>
<line x1="335.2" y1="355.0" x2="335.2" y2="360.6" stroke="#1a1a1a" stroke-width="1.1"/>
<line x1="366.3" y1="355.0" x2="366.3" y2="360.6" stroke="#1a1a1a" stroke-width="1.1"/>
<text transform="matrix(0.9160,0.0005,0,0.8777,359.53,368.60)" font-family="Liberation Sans, Arial, sans-serif" text-rendering="geometricPrecision" font-size="10" fill="#1a1a1a" stroke="#1a1a1a" stroke-width="0.16">3.5</text>
<line x1="397.4" y1="355.0" x2="397.4" y2="360.6" stroke="#1a1a1a" stroke-width="1.1"/>
<line x1="428.4" y1="355.0" x2="428.4" y2="360.6" stroke="#1a1a1a" stroke-width="1.1"/>
<text transform="matrix(0.9023,0.0005,0,0.8777,421.82,368.60)" font-family="Liberation Sans, Arial, sans-serif" text-rendering="geometricPrecision" font-size="10" fill="#1a1a1a" stroke="#1a1a1a" stroke-width="0.16">4.5</text>
<line x1="459.4" y1="355.0" x2="459.4" y2="360.6" stroke="#1a1a1a" stroke-width="1.1"/>
<line x1="490.5" y1="355.0" x2="490.5" y2="360.6" stroke="#1a1a1a" stroke-width="1.1"/>
<text transform="matrix(0.9160,0.0005,0,0.8777,483.73,368.60)" font-family="Liberation Sans, Arial, sans-serif" text-rendering="geometricPrecision" font-size="10" fill="#1a1a1a" stroke="#1a1a1a" stroke-width="0.16">5.5</text>
<text transform="matrix(0.9555,0.0005,0,0.9065,324.62,383.80)" font-family="Liberation Sans, Arial, sans-serif" text-rendering="geometricPrecision" font-size="10" fill="#1a1a1a" stroke="#1a1a1a" stroke-width="0.3">Original Photoelectric Factor (B/E)</text>
<text transform="matrix(0.0005,-0.9545,1.0360,0,269.90,253.46)" font-family="Liberation Sans, Arial, sans-serif" text-rendering="geometricPrecision" font-size="10" fill="#1a1a1a" stroke="#1a1a1a" stroke-width="0.3">Predicted Photoelectric Factor (B/E)</text>
<g stroke="#2a2a2a" stroke-width="0.75" stroke-opacity="0.85"><rect x="438.80" y="45.20" width="3.4" height="3.4" fill="#08e0a8"/><rect x="445.40" y="49.50" width="3.4" height="3.4" fill="#0040ff"/><rect x="449.40" y="46.00" width="3.4" height="3.4" fill="#08e0a8"/><rect x="429.50" y="49.70" width="3.4" height="3.4" fill="#08e0a8"/><rect x="429.50" y="52.20" width="3.4" height="3.4" fill="#00d0ff"/><rect x="435.60" y="51.90" width="3.4" height="3.4" fill="#08e0a8"/><rect x="409.30" y="53.30" width="3.4" height="3.4" fill="#0040ff"/><rect x="408.50" y="58.60" width="3.4" height="3.4" fill="#0040ff"/><rect x="434.40" y="60.50" width="3.4" height="3.4" fill="#08e0a8"/><rect x="422.50" y="65.30" width="3.4" height="3.4" fill="#0040ff"/><rect x="436.50" y="67.40" width="3.4" height="3.4" fill="#00d0ff"/><rect x="440.30" y="68.00" width="3.4" height="3.4" fill="#00d0ff"/><rect x="442.90" y="69.50" width="3.4" height="3.4" fill="#00d0ff"/><rect x="434.80" y="71.50" width="3.4" height="3.4" fill="#08e0a8"/><rect x="445.10" y="72.50" width="3.4" height="3.4" fill="#00d0ff"/><rect x="442.00" y="72.60" width="3.4" height="3.4" fill="#08e0a8"/><rect x="425.40" y="73.50" width="3.4" height="3.4" fill="#0040ff"/><rect x="420.70" y="74.80" width="3.4" height="3.4" fill="#0040ff"/><rect x="431.30" y="75.30" width="3.4" height="3.4" fill="#00d0ff"/><rect x="443.00" y="75.30" width="3.4" height="3.4" fill="#00d0ff"/><rect x="440.00" y="78.10" width="3.4" height="3.4" fill="#0040ff"/><rect x="424.30" y="77.90" width="3.4" height="3.4" fill="#0040ff"/><rect x="453.90" y="65.40" width="3.4" height="3.4" fill="#00d0ff"/><rect x="457.60" y="65.40" width="3.4" height="3.4" fill="#0040ff"/><rect x="449.80" y="69.00" width="3.4" height="3.4" fill="#00d0ff"/><rect x="452.60" y="69.80" width="3.4" height="3.4" fill="#0040ff"/><rect x="457.80" y="68.30" width="3.4" height="3.4" fill="#0040ff"/><rect x="458.60" y="71.00" width="3.4" height="3.4" fill="#00d0ff"/><rect x="460.90" y="71.00" width="3.4" height="3.4" fill="#0040ff"/><rect x="452.20" y="72.30" width="3.4" height="3.4" fill="#0040ff"/><rect x="454.30" y="75.10" width="3.4" height="3.4" fill="#0040ff"/><rect x="456.80" y="75.80" width="3.4" height="3.4" fill="#0040ff"/><rect x="459.60" y="76.60" width="3.4" height="3.4" fill="#0040ff"/><rect x="459.00" y="81.10" width="3.4" height="3.4" fill="#00d0ff"/><rect x="470.80" y="66.50" width="3.4" height="3.4" fill="#0040ff"/><rect x="440.00" y="81.70" width="3.4" height="3.4" fill="#b400f0"/><rect x="434.60" y="83.20" width="3.4" height="3.4" fill="#b400f0"/><rect x="428.50" y="84.30" width="3.4" height="3.4" fill="#b400f0"/><rect x="440.30" y="85.50" width="3.4" height="3.4" fill="#b400f0"/><rect x="440.30" y="93.00" width="3.4" height="3.4" fill="#b400f0"/><rect x="434.20" y="97.80" width="3.4" height="3.4" fill="#b400f0"/><rect x="444.60" y="99.60" width="3.4" height="3.4" fill="#38e800"/><rect x="461.40" y="84.90" width="3.4" height="3.4" fill="#b400f0"/><rect x="462.70" y="87.80" width="3.4" height="3.4" fill="#0040ff"/><rect x="459.50" y="92.60" width="3.4" height="3.4" fill="#b400f0"/><rect x="411.30" y="89.40" width="3.4" height="3.4" fill="#b800b8"/><rect x="419.40" y="89.10" width="3.4" height="3.4" fill="#0040ff"/><rect x="435.20" y="102.60" width="3.4" height="3.4" fill="#0040ff"/><rect x="429.10" y="105.10" width="3.4" height="3.4" fill="#00d0ff"/><rect x="479.60" y="79.50" width="3.4" height="3.4" fill="#00d0ff"/><rect x="472.40" y="87.80" width="3.4" height="3.4" fill="#00d0ff"/><rect x="477.70" y="91.90" width="3.4" height="3.4" fill="#00d0ff"/><rect x="475.30" y="96.00" width="3.4" height="3.4" fill="#00d0ff"/><rect x="465.60" y="120.20" width="3.4" height="3.4" fill="#00d0ff"/><rect x="444.50" y="133.00" width="3.4" height="3.4" fill="#38e800"/><rect x="424.10" y="160.60" width="3.4" height="3.4" fill="#00d0ff"/><rect x="464.70" y="162.10" width="3.4" height="3.4" fill="#00d0ff"/><rect x="452.50" y="173.00" width="3.4" height="3.4" fill="#38e800"/><rect x="401.00" y="201.60" width="3.4" height="3.4" fill="#00d0ff"/><rect x="424.30" y="206.20" width="3.4" height="3.4" fill="#00d0ff"/><rect x="454.30" y="210.70" width="3.4" height="3.4" fill="#38e800"/><rect x="480.10" y="236.00" width="3.4" height="3.4" fill="#38e800"/><rect x="388.40" y="248.10" width="3.4" height="3.4" fill="#e4f000"/><rect x="394.10" y="245.40" width="3.4" height="3.4" fill="#e4f000"/><rect x="393.80" y="249.60" width="3.4" height="3.4" fill="#38e800"/><rect x="417.20" y="251.20" width="3.4" height="3.4" fill="#38e800"/><rect x="443.10" y="247.50" width="3.4" height="3.4" fill="#38e800"/><rect x="455.30" y="251.90" width="3.4" height="3.4" fill="#38e800"/><rect x="310.50" y="242.50" width="3.4" height="3.4" fill="#c00000"/><rect x="319.70" y="242.50" width="3.4" height="3.4" fill="#c00000"/><rect x="327.30" y="242.60" width="3.4" height="3.4" fill="#c00000"/><rect x="330.40" y="242.60" width="3.4" height="3.4" fill="#c00000"/><rect x="333.00" y="246.10" width="3.4" height="3.4" fill="#38e800"/><rect x="335.50" y="244.60" width="3.4" height="3.4" fill="#38e800"/><rect x="337.50" y="246.40" width="3.4" height="3.4" fill="#38e800"/><rect x="340.10" y="246.90" width="3.4" height="3.4" fill="#38e800"/><rect x="342.40" y="246.40" width="3.4" height="3.4" fill="#38e800"/><rect x="341.80" y="248.90" width="3.4" height="3.4" fill="#e4f000"/><rect x="352.80" y="230.40" width="3.4" height="3.4" fill="#08e0a8"/><rect x="346.90" y="238.20" width="3.4" height="3.4" fill="#08e0a8"/><rect x="344.90" y="240.60" width="3.4" height="3.4" fill="#08e0a8"/><rect x="348.20" y="241.00" width="3.4" height="3.4" fill="#08e0a8"/><rect x="351.80" y="245.70" width="3.4" height="3.4" fill="#38e800"/><rect x="353.80" y="244.90" width="3.4" height="3.4" fill="#08e0a8"/><rect x="358.90" y="244.30" width="3.4" height="3.4" fill="#08e0a8"/><rect x="361.50" y="247.90" width="3.4" height="3.4" fill="#08e0a8"/><rect x="355.90" y="251.50" width="3.4" height="3.4" fill="#08e0a8"/><rect x="358.40" y="249.90" width="3.4" height="3.4" fill="#08e0a8"/><rect x="350.80" y="252.50" width="3.4" height="3.4" fill="#38e800"/><rect x="347.20" y="249.40" width="3.4" height="3.4" fill="#08e0a8"/><rect x="363.30" y="249.20" width="3.4" height="3.4" fill="#08e0a8"/><rect x="360.30" y="252.70" width="3.4" height="3.4" fill="#38e800"/><rect x="355.40" y="248.70" width="3.4" height="3.4" fill="#00d0ff"/><rect x="373.90" y="231.20" width="3.4" height="3.4" fill="#00d0ff"/><rect x="367.20" y="244.10" width="3.4" height="3.4" fill="#00d0ff"/><rect x="363.80" y="241.70" width="3.4" height="3.4" fill="#e4f000"/><rect x="370.60" y="242.40" width="3.4" height="3.4" fill="#e4f000"/><rect x="369.30" y="251.00" width="3.4" height="3.4" fill="#e4f000"/><rect x="372.60" y="251.00" width="3.4" height="3.4" fill="#e4f000"/><rect x="373.60" y="254.00" width="3.4" height="3.4" fill="#e4f000"/><rect x="370.50" y="255.10" width="3.4" height="3.4" fill="#e4f000"/><rect x="374.40" y="259.10" width="3.4" height="3.4" fill="#e4f000"/><rect x="373.20" y="261.10" width="3.4" height="3.4" fill="#e4f000"/><rect x="323.70" y="255.60" width="3.4" height="3.4" fill="#e4f000"/><rect x="335.10" y="255.00" width="3.4" height="3.4" fill="#e4f000"/><rect x="337.80" y="256.30" width="3.4" height="3.4" fill="#e4f000"/><rect x="340.90" y="257.30" width="3.4" height="3.4" fill="#e4f000"/><rect x="354.20" y="255.30" width="3.4" height="3.4" fill="#e4f000"/><rect x="352.10" y="257.30" width="3.4" height="3.4" fill="#e4f000"/><rect x="356.20" y="257.30" width="3.4" height="3.4" fill="#e4f000"/><rect x="361.80" y="256.30" width="3.4" height="3.4" fill="#e4f000"/><rect x="364.30" y="255.00" width="3.4" height="3.4" fill="#e4f000"/><rect x="340.90" y="261.60" width="3.4" height="3.4" fill="#e4f000"/><rect x="351.60" y="259.90" width="3.4" height="3.4" fill="#e4f000"/><rect x="357.70" y="260.90" width="3.4" height="3.4" fill="#e4f000"/><rect x="361.30" y="261.20" width="3.4" height="3.4" fill="#e4f000"/><rect x="353.10" y="263.70" width="3.4" height="3.4" fill="#e4f000"/><rect x="359.30" y="264.70" width="3.4" height="3.4" fill="#e4f000"/><rect x="362.80" y="265.10" width="3.4" height="3.4" fill="#e4f000"/><rect x="343.00" y="265.10" width="3.4" height="3.4" fill="#e4f000"/><rect x="348.60" y="266.30" width="3.4" height="3.4" fill="#e4f000"/><rect x="346.50" y="267.90" width="3.4" height="3.4" fill="#e4f000"/><rect x="354.30" y="266.60" width="3.4" height="3.4" fill="#e4f000"/><rect x="372.30" y="264.60" width="3.4" height="3.4" fill="#e4f000"/><rect x="375.50" y="264.60" width="3.4" height="3.4" fill="#e4f000"/><rect x="371.50" y="267.80" width="3.4" height="3.4" fill="#e4f000"/><rect x="361.00" y="273.30" width="3.4" height="3.4" fill="#e4f000"/><rect x="354.50" y="283.20" width="3.4" height="3.4" fill="#e4f000"/><rect x="366.40" y="283.20" width="3.4" height="3.4" fill="#e4f000"/><rect x="355.20" y="292.30" width="3.4" height="3.4" fill="#e4f000"/><rect x="369.50" y="291.90" width="3.4" height="3.4" fill="#e4f000"/><rect x="324.30" y="262.40" width="3.4" height="3.4" fill="#d82800"/><rect x="337.70" y="260.90" width="3.4" height="3.4" fill="#d82800"/><rect x="348.10" y="262.90" width="3.4" height="3.4" fill="#e06000"/><rect x="317.60" y="271.50" width="3.4" height="3.4" fill="#d82800"/><rect x="339.90" y="270.30" width="3.4" height="3.4" fill="#e06000"/><rect x="341.40" y="273.80" width="3.4" height="3.4" fill="#f5a000"/><rect x="354.20" y="276.60" width="3.4" height="3.4" fill="#e06000"/><rect x="348.10" y="281.20" width="3.4" height="3.4" fill="#e06000"/><rect x="344.30" y="283.20" width="3.4" height="3.4" fill="#d82800"/><rect x="320.50" y="281.90" width="3.4" height="3.4" fill="#e06000"/><rect x="323.20" y="282.20" width="3.4" height="3.4" fill="#e06000"/><rect x="319.20" y="284.50" width="3.4" height="3.4" fill="#e06000"/><rect x="319.70" y="286.30" width="3.4" height="3.4" fill="#e06000"/><rect x="325.80" y="285.50" width="3.4" height="3.4" fill="#e06000"/><rect x="321.50" y="288.80" width="3.4" height="3.4" fill="#e06000"/><rect x="323.20" y="291.00" width="3.4" height="3.4" fill="#e06000"/><rect x="330.40" y="282.70" width="3.4" height="3.4" fill="#e06000"/><rect x="333.30" y="287.00" width="3.4" height="3.4" fill="#e06000"/><rect x="310.30" y="285.20" width="3.4" height="3.4" fill="#e06000"/><rect x="312.30" y="290.30" width="3.4" height="3.4" fill="#e06000"/><rect x="309.70" y="295.60" width="3.4" height="3.4" fill="#d82800"/><rect x="339.20" y="289.30" width="3.4" height="3.4" fill="#e06000"/><rect x="338.60" y="292.90" width="3.4" height="3.4" fill="#d82800"/><rect x="342.70" y="293.80" width="3.4" height="3.4" fill="#f5a000"/><rect x="346.30" y="291.70" width="3.4" height="3.4" fill="#f5a000"/><rect x="350.10" y="290.10" width="3.4" height="3.4" fill="#f5a000"/><rect x="356.90" y="290.80" width="3.4" height="3.4" fill="#f5a000"/><rect x="337.30" y="298.00" width="3.4" height="3.4" fill="#f5a000"/><rect x="352.10" y="299.10" width="3.4" height="3.4" fill="#f5a000"/><rect x="319.20" y="301.20" width="3.4" height="3.4" fill="#e06000"/><rect x="321.90" y="301.20" width="3.4" height="3.4" fill="#e06000"/><rect x="324.60" y="303.50" width="3.4" height="3.4" fill="#f5a000"/><rect x="328.00" y="302.20" width="3.4" height="3.4" fill="#e06000"/><rect x="331.10" y="304.00" width="3.4" height="3.4" fill="#e06000"/><rect x="331.10" y="306.70" width="3.4" height="3.4" fill="#e06000"/><rect x="333.60" y="309.10" width="3.4" height="3.4" fill="#d82800"/><rect x="336.50" y="305.00" width="3.4" height="3.4" fill="#f5a000"/><rect x="337.70" y="302.50" width="3.4" height="3.4" fill="#f5a000"/><rect x="312.30" y="304.50" width="3.4" height="3.4" fill="#f5a000"/><rect x="314.80" y="306.30" width="3.4" height="3.4" fill="#f5a000"/><rect x="309.30" y="310.80" width="3.4" height="3.4" fill="#d82800"/><rect x="313.10" y="310.80" width="3.4" height="3.4" fill="#e06000"/><rect x="308.40" y="314.50" width="3.4" height="3.4" fill="#f5a000"/><rect x="308.10" y="317.40" width="3.4" height="3.4" fill="#f5a000"/><rect x="312.10" y="317.70" width="3.4" height="3.4" fill="#f5a000"/><rect x="320.20" y="310.10" width="3.4" height="3.4" fill="#f5a000"/><rect x="324.60" y="309.10" width="3.4" height="3.4" fill="#d82800"/><rect x="327.30" y="311.80" width="3.4" height="3.4" fill="#d82800"/><rect x="319.30" y="316.00" width="3.4" height="3.4" fill="#d82800"/><rect x="322.60" y="318.10" width="3.4" height="3.4" fill="#d82800"/><rect x="325.00" y="318.20" width="3.4" height="3.4" fill="#d82800"/><rect x="323.80" y="320.80" width="3.4" height="3.4" fill="#d82800"/><rect x="334.50" y="314.60" width="3.4" height="3.4" fill="#d82800"/><rect x="336.10" y="318.00" width="3.4" height="3.4" fill="#f5a000"/><rect x="314.90" y="321.20" width="3.4" height="3.4" fill="#f5a000"/><rect x="314.40" y="324.30" width="3.4" height="3.4" fill="#f5a000"/><rect x="307.20" y="323.40" width="3.4" height="3.4" fill="#f5a000"/><rect x="308.40" y="325.60" width="3.4" height="3.4" fill="#f5a000"/><rect x="359.30" y="301.30" width="3.4" height="3.4" fill="#f5a000"/><rect x="362.60" y="304.30" width="3.4" height="3.4" fill="#f5a000"/><rect x="354.20" y="306.60" width="3.4" height="3.4" fill="#f5a000"/><rect x="356.90" y="305.80" width="3.4" height="3.4" fill="#f5a000"/><rect x="335.80" y="305.40" width="3.4" height="3.4" fill="#e06000"/><rect x="338.90" y="305.60" width="3.4" height="3.4" fill="#d82800"/><rect x="341.40" y="308.40" width="3.4" height="3.4" fill="#f5a000"/><rect x="340.90" y="311.50" width="3.4" height="3.4" fill="#d82800"/><rect x="344.00" y="311.20" width="3.4" height="3.4" fill="#f5a000"/><rect x="340.20" y="317.00" width="3.4" height="3.4" fill="#d82800"/></g>
<line x1="304" y1="324" x2="487.6" y2="41.5" stroke="#f07878" stroke-width="0.9"/>
<rect x="506.3" y="43.40" width="10.4" height="26.24" fill="#b800b8"/>
<rect x="506.3" y="69.34" width="10.4" height="26.24" fill="#c000ff"/>
<rect x="506.3" y="95.28" width="10.4" height="26.24" fill="#0040ff"/>
<rect x="506.3" y="121.22" width="10.4" height="26.24" fill="#00d0ff"/>
<rect x="506.3" y="147.17" width="10.4" height="26.24" fill="#00f0b0"/>
<rect x="506.3" y="173.11" width="10.4" height="26.24" fill="#40f000"/>
<rect x="506.3" y="199.05" width="10.4" height="26.24" fill="#c8f000"/>
<rect x="506.3" y="224.99" width="10.4" height="26.24" fill="#ffd000"/>
<rect x="506.3" y="250.93" width="10.4" height="26.24" fill="#f5a000"/>
<rect x="506.3" y="276.88" width="10.4" height="26.24" fill="#e06000"/>
<rect x="506.3" y="302.82" width="10.4" height="26.24" fill="#d02800"/>
<rect x="506.3" y="328.76" width="10.4" height="26.24" fill="#c00000"/>
<text transform="matrix(0.9623,0.0005,0,0.9640,518.22,72.69)" font-family="Liberation Sans, Arial, sans-serif" text-rendering="geometricPrecision" font-size="10" fill="#1a1a1a" stroke="#1a1a1a" stroke-width="0.16">974</text>
<text transform="matrix(0.9745,0.0005,0,0.9640,518.21,98.63)" font-family="Liberation Sans, Arial, sans-serif" text-rendering="geometricPrecision" font-size="10" fill="#1a1a1a" stroke="#1a1a1a" stroke-width="0.16">957</text>
<text transform="matrix(0.9745,0.0005,0,0.9640,518.21,150.52)" font-family="Liberation Sans, Arial, sans-serif" text-rendering="geometricPrecision" font-size="10" fill="#1a1a1a" stroke="#1a1a1a" stroke-width="0.16">922</text>
<text transform="matrix(0.9684,0.0005,0,0.9640,518.31,202.40)" font-family="Liberation Sans, Arial, sans-serif" text-rendering="geometricPrecision" font-size="10" fill="#1a1a1a" stroke="#1a1a1a" stroke-width="0.16">887</text>
<text transform="matrix(0.9745,0.0005,0,0.9640,518.21,254.28)" font-family="Liberation Sans, Arial, sans-serif" text-rendering="geometricPrecision" font-size="10" fill="#1a1a1a" stroke="#1a1a1a" stroke-width="0.16">952</text>
<text transform="matrix(0.9684,0.0005,0,0.9640,518.31,306.17)" font-family="Liberation Sans, Arial, sans-serif" text-rendering="geometricPrecision" font-size="10" fill="#1a1a1a" stroke="#1a1a1a" stroke-width="0.16">817</text>
<text transform="matrix(0.9623,0.0005,0,0.9640,518.32,332.11)" font-family="Liberation Sans, Arial, sans-serif" text-rendering="geometricPrecision" font-size="10" fill="#1a1a1a" stroke="#1a1a1a" stroke-width="0.16">800</text>
<text transform="matrix(0.0005,-0.9464,0.9928,0,543.70,228.09)" font-family="Liberation Sans, Arial, sans-serif" text-rendering="geometricPrecision" font-size="10" fill="#1a1a1a" stroke="#1a1a1a" stroke-width="0.3">Two-Way Time (ms)</text>
<text transform="matrix(0.9763,0.0005,0,0.9784,362.11,326.20)" font-family="Liberation Sans, Arial, sans-serif" text-rendering="geometricPrecision" font-size="10" fill="#1a1a1a" stroke="#1a1a1a" stroke-width="0.3">Correlation coefficient = 0.89</text>
<text transform="matrix(0.8872,0.0005,0,0.9353,361.89,338.70)" font-family="Liberation Sans, Arial, sans-serif" text-rendering="geometricPrecision" font-size="10" fill="#1a1a1a" stroke="#1a1a1a" stroke-width="0.22">RMSE = 0.31</text>

</svg></body></html>
